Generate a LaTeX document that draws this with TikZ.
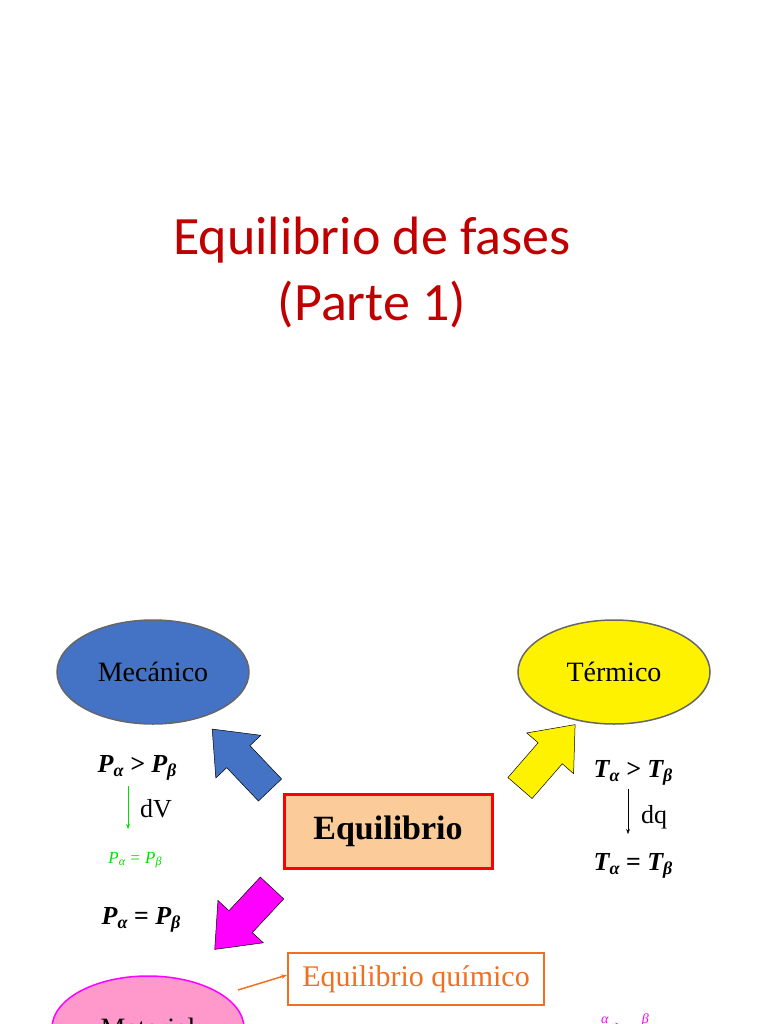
\documentclass[tikz,border=0pt]{standalone}
\usepackage{amsmath}
\usepackage{fontspec}
\setmainfont{Liberation Serif}
\newfontfamily\calib{Carlito}
\usetikzlibrary{shapes.geometric,arrows.meta}
\definecolor{titred}{HTML}{C00000}
\definecolor{mblue}{HTML}{4472C4}
\definecolor{peach}{HTML}{FBCB9A}
\definecolor{orng}{HTML}{F07020}
\definecolor{pinkf}{HTML}{FF99CC}
\definecolor{mag}{HTML}{FF00FF}
\definecolor{grn}{HTML}{00E000}
\tikzset{
 ell/.style={ellipse,draw=gray!80!black,line width=1.5pt,minimum width=192pt,minimum height=104pt,font=\fontsize{28}{30}\selectfont},
 bigarrow/.style={draw=black,line width=0.5pt},
 eq/.style={font=\bfseries\itshape\fontsize{26}{28}\selectfont}
}
\newcommand{\sbs}[1]{\raisebox{-0.35ex}{\fontsize{18}{18}\selectfont #1}}
\begin{document}
\begin{tikzpicture}[x=1pt,y=-1pt]
\useasboundingbox (0,0) rectangle (768,1024);
\clip (0,0) rectangle (768,1024);
\node[text=titred,font=\calib\fontsize{54}{66}\selectfont,align=center] (title) at (372,272) {Equilibrio de fases\\(Parte 1)};
\node[ell,fill=mblue] (mec) at (153,672) {Mecánico};
\node[ell,fill=yellow] (ter) at (614,672) {Térmico};
\node[ell,fill=pinkf,draw=mag] (mat) at (148,1028) {Material};
\node[draw=red,line width=3pt,fill=peach,minimum width=208pt,minimum height=74pt,font=\bfseries\fontsize{34}{36}\selectfont] (eqb) at (388,831) {Equilibrio};
\node[draw=orng,line width=2pt,minimum width=256pt,minimum height=52pt,text=orng,font=\fontsize{30}{32}\selectfont] (eqq) at (416,979) {Equilibrio químico};
\foreach \bx/\by/\ang/\col in {270/790/133.5/mblue, 520/788/49/yellow, 272/888/-133/mag}{
 \begin{scope}[shift={(\bx,\by)},rotate=\ang]
  \draw[bigarrow,fill=\col] (0,-16) -- (46,-16) -- (46,-31) -- (84,0) -- (46,31) -- (46,16) -- (0,16) -- cycle;
 \end{scope}}
\node[eq] (pgt) at (137,768) {P\sbs{α} > P\sbs{β}};
\coordinate (ga) at (128,786); \coordinate (gb) at (128,829);
\draw[grn,-{Stealth[length=5pt]}] (ga) -- (gb);
\node[font=\fontsize{26}{28}\selectfont] (dv) at (156,809) {dV};
\node[text=grn,font=\itshape\fontsize{17}{18}\selectfont] (peqs) at (135,860) {P{\fontsize{12}{12}\selectfont\raisebox{-0.35ex}{α}} = P{\fontsize{12}{12}\selectfont\raisebox{-0.35ex}{β}}};
\node[eq] (peq) at (141,920) {P\sbs{α} = P\sbs{β}};
\node[eq] (tgt) at (633,773) {T\sbs{α} > T\sbs{β}};
\coordinate (ka) at (628,789); \coordinate (kb) at (628,834);
\draw[-{Stealth[length=5pt]}] (ka) -- (kb);
\node[font=\fontsize{26}{28}\selectfont] (dq) at (654,817) {dq};
\node[eq] (teq) at (633,866) {T\sbs{α} = T\sbs{β}};
\coordinate (oa) at (238,990);
\draw[orng,line width=1.5pt,-{Stealth[length=6pt]}] (oa) -- (eqq.west |- 0,975);
\node[text=mag,font=\itshape\fontsize{20}{20}\selectfont] (mu) at (620,1026) {μ\raisebox{1.2ex}{\fontsize{14}{14}\selectfont α} > μ\raisebox{1.2ex}{\fontsize{14}{14}\selectfont β}};
\end{tikzpicture}
\end{document}
